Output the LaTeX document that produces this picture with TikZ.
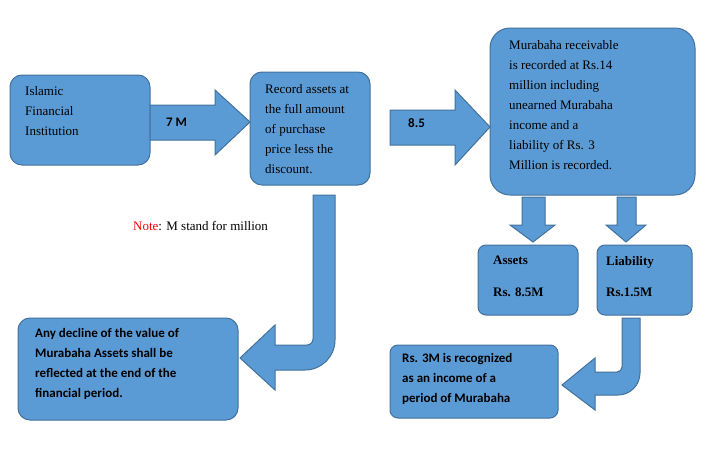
\documentclass[tikz,border=0pt]{standalone}
\usepackage{fontspec}
\setmainfont{Liberation Serif}
\newfontfamily\calfont{Carlito}
\definecolor{bfill}{HTML}{5B9BD5}
\definecolor{bdraw}{HTML}{41719C}
\begin{document}
\begin{tikzpicture}[x=1pt,y=-1pt,
  box/.style={draw=bdraw,fill=bfill,line width=1pt,rounded corners=12pt},
  arr/.style={draw=bdraw,fill=bfill,line width=1pt},
  tx/.style={anchor=north west,align=left,inner sep=0pt,font=\fontsize{13}{20}\selectfont},
  bt/.style={anchor=north west,align=left,inner sep=0pt,font=\calfont\bfseries\fontsize{13}{20}\selectfont}]
\useasboundingbox (0,0) rectangle (707,450);
% boxes
\draw[box] (10,75) rectangle (150,165);
\node[tx] (t1) at (25,86) {Islamic\\Financial\\Institution};
\draw[box] (250,72) rectangle (370,185);
\node[tx] (t2) at (265,84) {Record assets at\\the full amount\\of purchase\\price less the\\discount.};
\draw[box,rounded corners=20pt] (490,28) rectangle (695,195);
\node[tx] (t3) at (509,40) {Murabaha receivable\\is recorded at Rs.14\\million including\\unearned Murabaha\\income and a\\liability of Rs. 3\\Million is recorded.};
\draw[box,rounded corners=8pt] (478,245) rectangle (578,315);
\node[bt,font=\bfseries\fontsize{13}{20}\selectfont] (a1) at (493,256) {Assets};
\node[bt,font=\bfseries\fontsize{13}{20}\selectfont] (a2) at (493,288) {Rs. 8.5M};
\draw[box,rounded corners=8pt] (597,245) rectangle (692,315);
\node[bt,font=\bfseries\fontsize{13}{20}\selectfont] (l1) at (606,256) {Liability};
\node[bt,font=\bfseries\fontsize{13}{20}\selectfont] (l2) at (606,288) {Rs.1.5M};
\draw[box] (18,318) rectangle (238,420);
\node[bt] (t4) at (35,328) {Any decline of the value of\\Murabaha Assets shall be\\reflected at the end of the\\financial period.};
\draw[box,rounded corners=8pt] (390,345) rectangle (558,418);
\node[bt] (t5) at (402,353) {Rs. 3M is recognized\\as an income of a\\period of Murabaha};
% block arrows
\draw[arr] (150,105) -- (215,105) -- (215,90) -- (250,122) -- (215,155) -- (215,140) -- (150,140) -- cycle;
\node[bt] (m1) at (166,118) {7 M};
\draw[arr] (390,110) -- (455,110) -- (455,90) -- (490,127) -- (455,165) -- (455,145) -- (390,145) -- cycle;
\node[bt] (m2) at (408,118) {8.5};
\draw[arr] (522,197) -- (545,197) -- (545,225) -- (555,225) -- (533,242) -- (510,225) -- (522,225) -- cycle;
\draw[arr] (617,197) -- (636,197) -- (636,225) -- (646,225) -- (626,242) -- (606,225) -- (617,225) -- cycle;
\draw[arr] (313,195) -- (335,195) {[rounded corners=30pt] -- (335,370)} -- (275,370) -- (275,390) -- (240,358) -- (275,325) -- (275,345) {[rounded corners=6pt] -- (313,345)} -- cycle;
\draw[arr] (622,318) -- (640,318) {[rounded corners=22pt] -- (640,395)} -- (595,395) -- (595,410) -- (562,385) -- (595,358) -- (595,372) {[rounded corners=5pt] -- (622,372)} -- cycle;
\node[tx,anchor=west] (note) at (133,226) {\textcolor{red}{Note}: M stand for million};
\end{tikzpicture}
\end{document}
